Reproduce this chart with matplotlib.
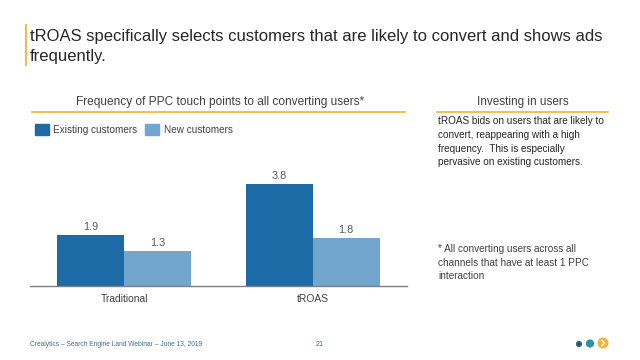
import matplotlib.pyplot as plt
from matplotlib.patches import Rectangle, Circle

plt.rcParams['font.family'] = ['Liberation Sans', 'DejaVu Sans']

categories = ['Traditional', 'tROAS']
existing = [1.9, 3.8]
new = [1.3, 1.8]
series_names = ['Existing customers', 'New customers']

DARK = '#1c6aa6'
LIGHT = '#72a6cf'
ORANGE = '#f5b335'
TEXT = '#404040'

W, H = 640, 360
fig = plt.figure(figsize=(6.4, 3.6), dpi=100)

def fx(px):
  return px / W

def fy(py):
  return 1 - py / H

# title block
fig.add_artist(plt.Line2D([fx(26), fx(26)], [fy(25), fy(65)], color=ORANGE, lw=1.3))
fig.text(fx(30), fy(36.5), 'tROAS specifically selects customers that are likely to convert and shows ads',
         fontsize=12.0, color='#262626', va='center')
fig.text(fx(30), fy(56), 'frequently.', fontsize=12.0, color='#262626', va='center')

# chart header
fig.text(fx(220), fy(102), 'Frequency of PPC touch points to all converting users*',
         fontsize=8.6, color=TEXT, ha='center', va='center')
fig.add_artist(plt.Line2D([fx(32), fx(405)], [fy(112), fy(112)], color=ORANGE, lw=1.2))

# legend
fig.add_artist(Rectangle((fx(35), fy(135)), fx(14), 11 / H, color=DARK, transform=fig.transFigure))
fig.text(fx(53), fy(129.5), series_names[0], fontsize=7.2, color=TEXT, va='center')
fig.add_artist(Rectangle((fx(145), fy(135)), fx(14), 11 / H, color=LIGHT, transform=fig.transFigure))
fig.text(fx(164), fy(129.5), series_names[1], fontsize=7.2, color=TEXT, va='center')

# bars
ax = fig.add_axes([fx(30), fy(286), fx(377), 146 / H])
x = list(range(len(categories)))
bw = 0.355
b1 = ax.bar([i - bw / 2 for i in x], existing, bw, color=DARK)
b2 = ax.bar([i + bw / 2 for i in x], new, bw, color=LIGHT)
for bars, vals in ((b1, existing), (b2, new)):
  for r, v in zip(bars, vals):
    ax.text(r.get_x() + r.get_width() / 2, v + 0.1, f'{v:.1f}', ha='center', va='bottom',
            fontsize=7.8, color='#595959')
ax.set_xlim(-0.5, 1.5)
ax.set_ylim(0, 5.44)
ax.set_xticks(x)
ax.set_xticklabels(categories, fontsize=7.4, color=TEXT)
ax.tick_params(axis='x', length=0, pad=6)
ax.set_yticks([])
for s in ('top', 'right', 'left'):
  ax.spines[s].set_visible(False)
ax.spines['bottom'].set_color('#7f7f7f')
ax.spines['bottom'].set_linewidth(1)

# right panel
fig.text(fx(523), fy(102), 'Investing in users', fontsize=8.5, color=TEXT, ha='center', va='center')
fig.add_artist(plt.Line2D([fx(437), fx(608)], [fy(112), fy(112)], color=ORANGE, lw=1.2))
fig.text(fx(438), fy(116.5), 'tROAS bids on users that are likely to\nconvert, reappearing with a high\n'
         'frequency.  This is especially\npervasive on existing customers.',
         fontsize=7.2, color='#262626', va='top', linespacing=1.45)
fig.text(fx(438), fy(244), '* All converting users across all\nchannels that have at least 1 PPC\ninteraction',
         fontsize=7.2, color=TEXT, va='top', linespacing=1.45)

# footer
fig.text(fx(30), fy(345), 'Crealytics – Search Engine Land Webinar – June 13, 2019',
         fontsize=4.8, color='#3c6e8f', va='center')
fig.text(fx(320), fy(345), '21', fontsize=5.2, color='#3c6e8f', ha='center', va='center')

def dot(px, py, r, color):
  # position and radius in pixels, drawn as a true circle
  fig.add_artist(Circle((px / 100, (H - py) / 100), r / 100, color=color,
                        transform=fig.dpi_scale_trans))

dot(579, 344, 2.3, '#1f5f7a')
dot(590, 343.5, 3.4, '#2b8fa8')
dot(603, 343, 4.8, ORANGE)
fig.add_artist(plt.Line2D([fx(602), fx(604.5), fx(602)], [fy(340.5), fy(343), fy(345.5)],
                          color='white', lw=1.1))

fig.savefig('out.png', dpi=100)
